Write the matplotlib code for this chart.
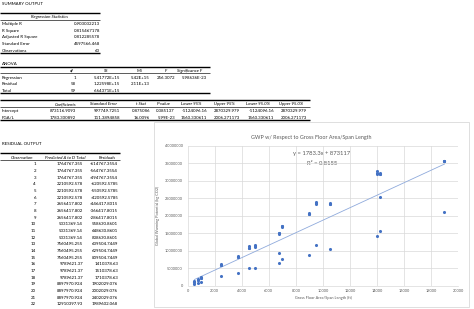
import matplotlib.pyplot as plt
from matplotlib.patches import Rectangle
import numpy as np

# ---- regression summary (Excel output) ----
reg_stat_labels = ["Multiple R", "R Square", "Adjusted R Square", "Standard Error", "Observations"]
reg_stat_values = ["0.903032213", "0.815467178", "0.812285578", "4597566.468", "60"]

anova_headers = ["df", "SS", "MS", "F", "Significance F"]
anova_rows = ["Regression", "Residual", "Total"]
anova_cells = [
    ["1", "5.41772E+15", "5.42E+15", "256.3072", "5.98636E-23"],
    ["58", "1.22598E+15", "2.11E+13", "", ""],
    ["59", "6.64371E+15", "", "", ""],
]

coef_headers = ["Coefficients", "Standard Error", "t Stat", "P-value",
                "Lower 95%", "Upper 95%", "Lower 95.0%", "Upper 95.0%"]
coef_rows = ["Intercept", "FGA/L"]
coef_cells = [
    ["873116.9093", "997749.7251", "0.875086", "0.385137",
     "-1124096.16", "2870329.979", "-1124096.16", "2870329.979"],
    ["1783.300892", "111.3894858", "16.0096", "5.99E-23",
     "1560.330611", "2006.271173", "1560.330611", "2006.271173"],
]
intercept = 873116.9093
slope = 1783.300892

resid_headers = ["Observation", "Predicted A to D Total", "Residuals"]
predicted = (["1764767.355"] * 3 + ["2210592.578"] * 3 + ["2656417.802"] * 3
             + ["5331369.14"] * 3 + ["7560495.255"] * 3 + ["9789621.37"] * 3
             + ["8897970.924"] * 3 + ["12910397.93"])
residuals = ["-614767.3554", "-564767.3554", "-494767.3554",
             "-620592.5785", "-550592.5785", "-420592.5785",
             "-446417.8015", "-366417.8015", "-286417.8015",
             "558630.8601", "648630.8601", "838630.8601",
             "609504.7449", "629504.7449", "809504.7449",
             "1410378.63", "1510378.63", "1710378.63",
             "1902029.076", "2002029.076", "2402029.076",
             "1989602.068"]

# ---- scatter data: gross floor area / span length vs GWP ----
gfa_ft = [500, 500, 500, 500, 750, 750, 750, 750, 1000, 1000, 1000, 1000,
          2500, 2500, 2500, 2500, 3750, 3750, 3750, 3750,
          5000, 5000, 5000, 5000, 4500, 4500, 4500, 4500,
          6750, 6750, 6750, 6750, 6750, 7000, 7000, 7000, 7000,
          9000, 9000, 9000, 9000, 9500, 9500, 9500, 9500,
          10500, 10500, 10500, 10500, 14000, 14000, 14000, 14000,
          14250, 14250, 14250, 14250, 14250, 19000, 19000, 19000, 19000]
gwp_kg = [1150000, 1200000, 1270000, 600000, 1590000, 1660000, 1790000, 700000,
          2210000, 2290000, 2370000, 1000000,
          5890000, 5980000, 6170000, 2700000, 8170000, 8190000, 8370000, 3600000,
          11200000, 11300000, 11500000, 5200000, 10800000, 10900000, 11300000, 5000000,
          14900000, 15000000, 15100000, 9400000, 6500000,
          16900000, 17000000, 17200000, 7700000,
          20500000, 20600000, 20700000, 8800000, 23400000, 23600000, 23800000, 11700000,
          23300000, 23400000, 23500000, 10500000, 31900000, 32300000, 32700000, 14100000,
          31900000, 32000000, 32100000, 25400000, 15500000,
          35500000, 35600000, 35700000, 21200000]

x_ticks = np.arange(0, 20001, 2000)
y_ticks = np.arange(0, 40000001, 5000000)

FONT = "Lato"
FS = 3.2
ROW = 6.67
GREY = "#595959"


def row_y(r):
    return (r - 0.5) * ROW + 0.8


fig = plt.figure(figsize=(4.74, 3.09), dpi=100)
bg = fig.add_axes([0, 0, 1, 1])
bg.set_xlim(0, 474)
bg.set_ylim(309, 0)
bg.axis("off")


def txt(x, y, s, ha="left", style="normal"):
    bg.text(x, y, s, ha=ha, va="center", fontsize=FS, family=FONT,
            style=style, color="black")


def hline(y, x0, x1, lw):
    bg.plot([x0, x1], [y, y], color="black", lw=lw, solid_capstyle="butt")


THICK, THIN = 1.0, 0.45

# summary / regression statistics
txt(2, row_y(1), "SUMMARY OUTPUT")
hline(2 * ROW, 0, 100, THICK)
txt(50, row_y(3), "Regression Statistics", ha="center", style="italic")
hline(3 * ROW, 0, 100, THIN)
for i, (lab, val) in enumerate(zip(reg_stat_labels, reg_stat_values)):
    txt(2, row_y(4 + i), lab)
    txt(100, row_y(4 + i), val, ha="right")
hline(8 * ROW, 0, 100, THICK)

# anova
anova_right = [76, 120, 150, 175, 207]
anova_center = [72, 106, 140, 166, 190]
txt(2, row_y(10), "ANOVA")
hline(10 * ROW, 0, 210, THICK)
for h, cx in zip(anova_headers, anova_center):
    txt(cx, row_y(11), h, ha="center", style="italic")
hline(11 * ROW, 0, 210, THIN)
for i, (lab, cells) in enumerate(zip(anova_rows, anova_cells)):
    txt(2, row_y(12 + i), lab)
    for c, rx in zip(cells, anova_right):
        txt(rx, row_y(12 + i), c, ha="right")
hline(14 * ROW, 0, 210, THICK)

# coefficients
coef_right = [76, 120, 150, 175, 207, 240, 274, 307]
coef_center = [66, 104, 141, 164, 191, 224, 258, 291]
hline(15 * ROW, 0, 310, THICK)
for h, cx in zip(coef_headers, coef_center):
    txt(cx, row_y(16), h, ha="center", style="italic")
hline(16 * ROW, 0, 310, THIN)
for i, (lab, cells) in enumerate(zip(coef_rows, coef_cells)):
    txt(2, row_y(17 + i), lab)
    for c, rx in zip(cells, coef_right):
        txt(rx, row_y(17 + i), c, ha="right")
hline(18 * ROW, 0, 310, THICK)

# residual output
txt(2, row_y(22), "RESIDUAL OUTPUT")
hline(23 * ROW, 0, 120, THICK)
for h, cx in zip(resid_headers, [22.5, 65.5, 107.5]):
    txt(cx, row_y(24), h, ha="center", style="italic")
hline(24 * ROW, 0, 120, THIN)
for i, (p, r) in enumerate(zip(predicted, residuals)):
    txt(36, row_y(25 + i), str(i + 1), ha="right")
    txt(83, row_y(25 + i), p, ha="right")
    txt(118, row_y(25 + i), r, ha="right")

# ---- chart ----
bg.add_patch(Rectangle((154, 122), 315, 185, fc="white", ec="#D9D9D9", lw=0.6))
bg.text(311.5, 137, "GWP w/ Respect to Gross Floor Area/Span Length", ha="center",
        va="center", fontsize=3.9, family=FONT, color=GREY)
bg.text(323, 298, "Gross Floor Area/Span Length (ft)", ha="center", va="center",
        fontsize=2.8, family=FONT, color=GREY)
bg.text(158, 215.7, "Global Warming Potential (kg CO2)", ha="center", va="center",
        rotation=90, fontsize=2.8, family=FONT, color=GREY)

L, R, T, B = 187.7, 458, 145.7, 285.7
ax = fig.add_axes([L / 474, (309 - B) / 309, (R - L) / 474, (B - T) / 309])
ax.patch.set_alpha(0)
ax.scatter(gfa_ft, gwp_kg, s=5, color="#4472C4", linewidths=0, zorder=3)
xs = np.array([min(gfa_ft), max(gfa_ft)])
ax.plot(xs, intercept + slope * xs, color="#8FAADC", lw=0.6, zorder=2)
ax.set_xlim(0, 20000)
ax.set_ylim(0, 40000000)
ax.set_xticks(x_ticks)
ax.set_yticks(y_ticks)
ax.set_xticklabels([str(v) for v in x_ticks], fontsize=2.8, family=FONT, color=GREY)
ax.set_yticklabels([str(v) for v in y_ticks], fontsize=2.8, family=FONT, color=GREY)
ax.tick_params(length=0)
ax.tick_params(axis="y", pad=3.4)
ax.tick_params(axis="x", pad=2.4)
ax.grid(True, color="#D9D9D9", lw=0.5)
ax.set_axisbelow(True)
for side in ["top", "right", "left"]:
    ax.spines[side].set_visible(False)
ax.spines["bottom"].set_color("#D9D9D9")
ax.spines["bottom"].set_linewidth(0.5)

bg.text(321.5, 154, "y = 1783.3x + 873117", ha="center", va="center",
        fontsize=4.2, family=FONT, color=GREY)
bg.text(322, 163.3, "R\u00b2 = 0.8155", ha="center", va="center",
        fontsize=4.2, family=FONT, color=GREY)

fig.savefig("out.png", dpi=100)
